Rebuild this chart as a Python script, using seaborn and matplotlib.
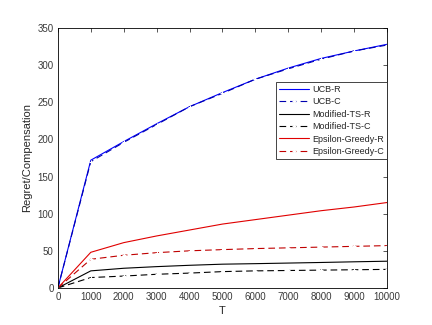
import numpy as np
import pandas as pd
import matplotlib
matplotlib.use("Agg")
import matplotlib.pyplot as plt
import seaborn as sns

# ==========================================
# Data
# ==========================================

T = [0, 1000, 2000, 3000, 4000, 5000, 6000, 7000, 8000, 9000, 10000]

ucb_r = [0, 172, 197, 221, 244, 263, 281, 296, 309, 319, 328]
ucb_c = [0, 170, 196, 220, 244, 262, 281, 295, 308, 319, 327]
ts_r = [0, 23, 26.5, 28.7, 30.5, 32, 32.7, 33.5, 34.3, 35.2, 36]
ts_c = [0, 14, 16, 18.4, 20, 22, 23, 23.5, 24, 24.5, 25]
eg_r = [0, 48, 61, 70, 78, 86, 92, 98, 104, 109, 115]
eg_c = [0, 38.6, 44, 47.5, 50, 51.6, 53, 54, 55, 56, 57]

labels = ["UCB-R", "UCB-C", "Modified-TS-R", "Modified-TS-C",
          "Epsilon-Greedy-R", "Epsilon-Greedy-C"]
series = [ucb_r, ucb_c, ts_r, ts_c, eg_r, eg_c]
colors = ["#0000ff", "#0000b0", "black", "black", "#e00000", "#c00000"]
dash = (0, (6, 3.5))
styles = ["-", dash, "-", dash, "-", dash]
markers = [None, "+", None, "+", None, "+"]

# ==========================================
# Plot
# ==========================================

sns.set_style("white")
plt.rcParams["font.family"] = ["Liberation Sans", "DejaVu Sans"]

fig = plt.figure(figsize=(4.32, 3.25), dpi=100)
ax = fig.add_axes([0.134, 0.114, 0.762, 0.80])

for vals, lab, col, ls, mk in zip(series, labels, colors, styles, markers):
    df = pd.DataFrame({"T": T, "val": vals})
    sns.lineplot(data=df, x="T", y="val", ax=ax, color=col, linestyle=ls,
                 marker=mk, markersize=3, markeredgewidth=0.8,
                 linewidth=0.8, label=lab)

ax.set_xlim(0, 10000)
ax.set_ylim(0, 350)
ax.set_xticks(np.arange(0, 10001, 1000))
ax.set_yticks(np.arange(0, 351, 50))
ax.set_xlabel("T", fontsize=8, color="#262626", labelpad=3)
ax.set_ylabel("Regret/Compensation", fontsize=8, color="#262626", labelpad=4)

ax.tick_params(direction="in", top=True, right=True, length=3, width=0.6,
               labelsize=7, colors="#3a3a3a", pad=3)
for sp in ax.spines.values():
    sp.set_color("black")
    sp.set_linewidth(0.6)

leg = ax.legend(loc="upper right", bbox_to_anchor=(1.0, 0.793), fontsize=6.5,
                frameon=True, fancybox=False, framealpha=1, edgecolor="#262626",
                handlelength=3.4, handletextpad=0.3, borderpad=0.35,
                labelspacing=0.38, borderaxespad=0)
leg.get_frame().set_linewidth(0.6)

plt.savefig("out.png", dpi=100)
